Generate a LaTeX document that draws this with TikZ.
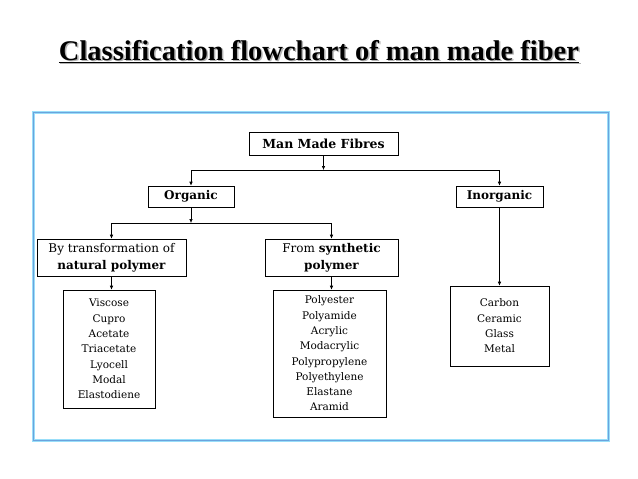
\documentclass[tikz,border=0pt]{standalone}
\usepackage{fontspec}
\setmainfont{DejaVu Serif}
\newfontfamily\titlefont{Liberation Serif}
\usetikzlibrary{arrows.meta}
\begin{document}
\begin{tikzpicture}[x=1pt,y=-1pt,
  box/.style={draw,line width=0.6pt,inner sep=0pt,align=center,font=\fontsize{12}{17}\selectfont},
  lst/.style={box,font=\fontsize{10.5}{15.3}\selectfont},
  arr/.style={-{Latex[length=4pt,width=3.5pt]},line width=0.6pt}]
\useasboundingbox (0,0) rectangle (638,479);
\fill[white] (0,0) rectangle (638,479);
% title
\node (tshadow) at (320.5,53) {\titlefont\fontsize{28.5}{32}\selectfont\bfseries\color{gray!60}\underline{Classification flowchart of man made fiber}};
\node (title) at (319,51.5) {\titlefont\fontsize{28.5}{32}\selectfont\bfseries\underline{Classification flowchart of man made fiber}};
% frame
\draw[line width=3pt,cyan!40] (33,112) rectangle (608,440);
\draw[line width=0.6pt,cyan!60!blue!60] (33,112) rectangle (608,440);
% nodes
\node[box,minimum width=149,minimum height=23,font=\fontsize{12.5}{15}\selectfont\bfseries] (man) at (323.5,143.5) {Man Made Fibres};
\node[box,minimum width=86,minimum height=21,font=\fontsize{12}{15}\selectfont\bfseries] (org) at (191,196.5) {Organic};
\node[box,minimum width=87,minimum height=21,font=\fontsize{12}{15}\selectfont\bfseries] (inorg) at (499.5,196.5) {Inorganic};
\node[box,minimum width=149,minimum height=37] (nat) at (111.5,257.5) {By transformation of\\\textbf{natural polymer}};
\node[box,minimum width=133,minimum height=37] (syn) at (331.5,257.5) {From \textbf{synthetic}\\\textbf{polymer}};
\node[lst,minimum width=92,minimum height=118] (l1) at (109,349) {Viscose\\Cupro\\Acetate\\Triacetate\\Lyocell\\Modal\\Elastodiene};
\node[lst,minimum width=113,minimum height=127] (l2) at (329.5,353.5) {Polyester\\Polyamide\\Acrylic\\Modacrylic\\Polypropylene\\Polyethylene\\Elastane\\Aramid};
\node[lst,minimum width=99,minimum height=80] (l3) at (499.5,326) {Carbon\\Ceramic\\Glass\\Metal};
% connectors
\coordinate (j1) at (323.5,170);
\coordinate (j2) at (191,223);
\draw[arr] (man) -- (j1);
\draw[arr] (j1) -| (org);
\draw[arr] (j1) -| (inorg);
\draw[arr] (org) -- (j2);
\draw[arr] (j2) -| (nat);
\draw[arr] (j2) -| (syn);
\draw[arr] (nat.south) -- (nat.south |- l1.north);
\draw[arr] (syn.south) -- (syn.south |- l2.north);
\draw[arr] (inorg) -- (l3);
\end{tikzpicture}
\end{document}
